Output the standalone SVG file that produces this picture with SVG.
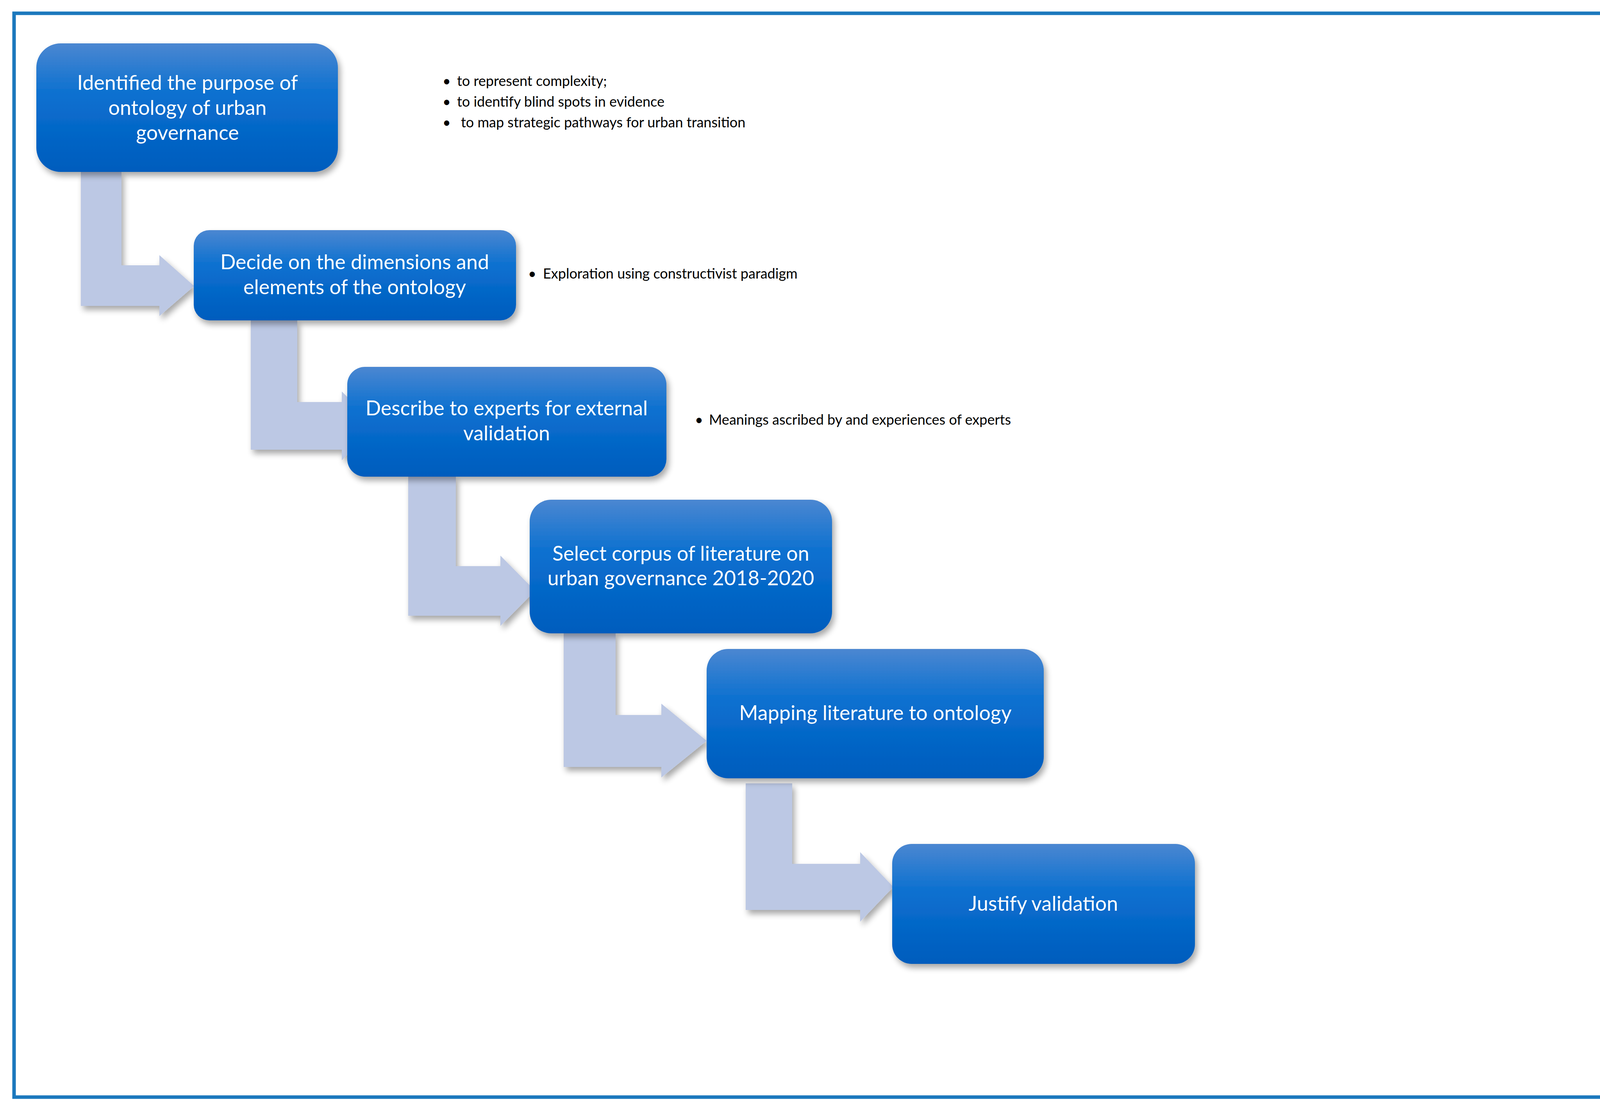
<svg xmlns="http://www.w3.org/2000/svg" width="4160" height="2841" viewBox="0 0 4160 2841">
<defs>
<linearGradient id="g" x1="0" y1="0" x2="0" y2="1">
<stop offset="0" stop-color="#4b87d1"/><stop offset="0.4" stop-color="#0a70d0"/><stop offset="1" stop-color="#005cbd"/>
</linearGradient>
<filter id="sh" x="-10%" y="-10%" width="130%" height="130%">
<feGaussianBlur in="SourceAlpha" stdDeviation="8"/><feOffset dx="6" dy="10"/>
<feComponentTransfer><feFuncA type="linear" slope="0.35"/></feComponentTransfer>
<feMerge><feMergeNode/><feMergeNode in="SourceGraphic"/></feMerge>
</filter>
</defs>
<style>
.box{fill:url(#g);filter:url(#sh)}
.arr{fill:#bcc8e4;filter:url(#sh)}
.t{font-family:Lato,"Open Sans",sans-serif;font-size:52px;fill:#fff;text-anchor:middle}
.b{font-family:Lato,"Open Sans",sans-serif;font-size:36px;fill:#000}
</style>
<rect x="36" y="34" width="4090" height="2774" fill="none" stroke="#1b78bd" stroke-width="9"/>
<g id="connectors">
<path class="arr" d="M207 440H311V679H408V653L497 732L408 809V783H207Z"/>
<path class="arr" d="M642 820H761V1029H875V1002L964 1090L875 1178V1151H642Z"/>
<path class="arr" d="M1045 1220H1167V1449H1281V1422L1370 1512L1281 1602V1576H1045Z"/>
<path class="arr" d="M1443 1621H1576V1830H1693V1801L1809 1896L1693 1990V1963H1443Z"/>
<path class="arr" d="M1909 2005H2028V2211H2202V2181L2287 2270L2202 2359V2329H1909Z"/>
</g>
<g id="n1"><rect class="box" x="93" y="111" width="772" height="329" rx="62"/>
<text class="t" x="480" y="230">Identified the purpose of</text><text class="t" x="480" y="294">ontology of urban</text><text class="t" x="480" y="358">governance</text></g>
<g id="n2"><rect class="box" x="496" y="589" width="825" height="231" rx="40"/>
<text class="t" x="908" y="689">Decide on the dimensions and</text><text class="t" x="908" y="753">elements of the ontology</text></g>
<g id="n3"><rect class="box" x="889" y="939" width="817" height="281" rx="45"/>
<text class="t" x="1297" y="1063">Describe to experts for external</text><text class="t" x="1297" y="1127">validation</text></g>
<g id="n4"><rect class="box" x="1356" y="1279" width="774" height="342" rx="55"/>
<text class="t" x="1743" y="1435">Select corpus of literature on</text><text class="t" x="1743" y="1498">urban governance 2018-2020</text></g>
<g id="n5"><rect class="box" x="1809" y="1661" width="863" height="331" rx="55"/>
<text class="t" x="2241" y="1843">Mapping literature to ontology</text></g>
<g id="n6"><rect class="box" x="2284" y="2160" width="775" height="307" rx="50"/>
<text class="t" x="2671" y="2331">Justify validation</text></g>
<g id="notes">
<text class="b" x="1133" y="220">•</text><text class="b" x="1170" y="220">to represent complexity;</text>
<text class="b" x="1133" y="273">•</text><text class="b" x="1170" y="273">to identify blind spots in evidence</text>
<text class="b" x="1133" y="326">•</text><text class="b" x="1180" y="326">to map strategic pathways for urban transition</text>
<text class="b" x="1352" y="713">•</text><text class="b" x="1390" y="713">Exploration using constructivist paradigm</text>
<text class="b" x="1779" y="1087">•</text><text class="b" x="1815" y="1087">Meanings ascribed by and experiences of experts</text>
</g>
</svg>
